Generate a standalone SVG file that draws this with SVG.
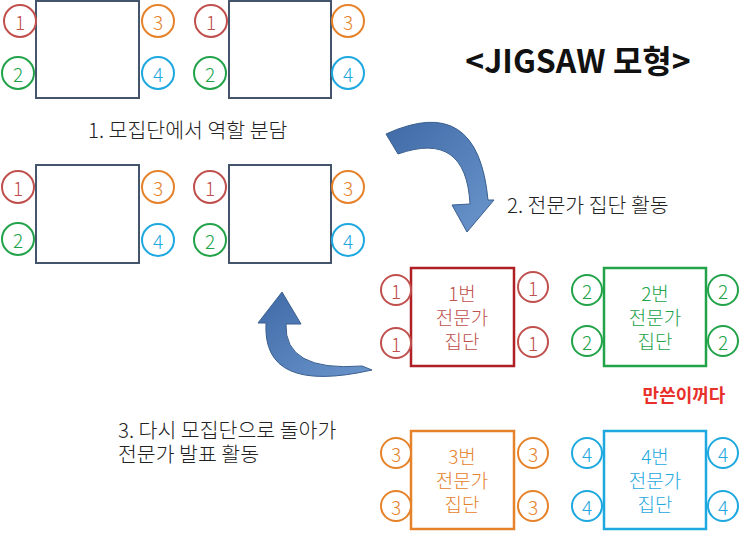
<svg xmlns="http://www.w3.org/2000/svg" width="743" height="533" viewBox="0 0 743 533">
<style>
text{font-family:"Noto Sans CJK KR","Noto Sans",sans-serif;}
.c{fill:#fff;stroke-width:2}
.n{font-size:19px;text-anchor:middle;dominant-baseline:central;font-weight:300}
.r{stroke:#c0504d}.rt{fill:#c0504d}
.g{stroke:#22a34a}.gt{fill:#22a34a}
.o{stroke:#e6822a}.ot{fill:#e6822a}
.b{stroke:#1ea8e0}.bt{fill:#1ea8e0}
.tb{fill:#fff;stroke:#44546a;stroke-width:2}
.lbl{font-size:20.5px;fill:#222;font-weight:300}
.big{font-size:19px;text-anchor:middle;font-weight:300}
.arrow{fill:url(#ag);stroke:#3a5f8f;stroke-width:1}
</style>
<defs>
<linearGradient id="ag" x1="0" y1="0" x2="1" y2="1"><stop offset="0" stop-color="#3f6aa6"/><stop offset="1" stop-color="#6b95cc"/></linearGradient>
</defs>
<rect width="743" height="533" fill="#fff"/>
<g id="home1">
<rect class="tb" x="36" y="1" width="103" height="97"/>
<circle class="c r" cx="20" cy="21" r="16"/><text class="n rt" x="20" y="21">1</text>
<circle class="c g" cx="18" cy="73" r="16"/><text class="n gt" x="18" y="73">2</text>
<circle class="c o" cx="158" cy="21" r="16"/><text class="n ot" x="158" y="21">3</text>
<circle class="c b" cx="158" cy="73" r="16"/><text class="n bt" x="158" y="73">4</text>
</g>
<g id="home2">
<rect class="tb" x="229" y="1" width="102" height="97"/>
<circle class="c r" cx="211" cy="21" r="16"/><text class="n rt" x="211" y="21">1</text>
<circle class="c g" cx="210" cy="73" r="16"/><text class="n gt" x="210" y="73">2</text>
<circle class="c o" cx="348" cy="21" r="16"/><text class="n ot" x="348" y="21">3</text>
<circle class="c b" cx="348" cy="73" r="16"/><text class="n bt" x="348" y="73">4</text>
</g>
<g id="home3">
<rect class="tb" x="36" y="165" width="103" height="98"/>
<circle class="c r" cx="18" cy="187" r="16"/><text class="n rt" x="18" y="187">1</text>
<circle class="c g" cx="18" cy="239" r="16"/><text class="n gt" x="18" y="239">2</text>
<circle class="c o" cx="158" cy="187" r="16"/><text class="n ot" x="158" y="187">3</text>
<circle class="c b" cx="158" cy="240" r="16"/><text class="n bt" x="158" y="240">4</text>
</g>
<g id="home4">
<rect class="tb" x="229" y="165" width="102" height="98"/>
<circle class="c r" cx="210" cy="187" r="16"/><text class="n rt" x="210" y="187">1</text>
<circle class="c g" cx="210" cy="240" r="16"/><text class="n gt" x="210" y="240">2</text>
<circle class="c o" cx="348" cy="187" r="16"/><text class="n ot" x="348" y="187">3</text>
<circle class="c b" cx="348" cy="240" r="16"/><text class="n bt" x="348" y="240">4</text>
</g>
<g id="expert1">
<rect x="411" y="268" width="103" height="98" fill="#fff" stroke="#b01f24" stroke-width="2.5"/>
<text class="big rt" x="462" y="301">1번</text><text class="big rt" x="462" y="325">전문가</text><text class="big rt" x="462" y="349">집단</text>
<circle class="c r" cx="396" cy="290" r="15"/><text class="n rt" x="396" y="290">1</text>
<circle class="c r" cx="396" cy="343" r="15"/><text class="n rt" x="396" y="343">1</text>
<circle class="c r" cx="533" cy="287" r="15"/><text class="n rt" x="533" y="287">1</text>
<circle class="c r" cx="533" cy="342" r="15"/><text class="n rt" x="533" y="342">1</text>
</g>
<g id="expert2">
<rect class="g" x="604" y="268" width="102" height="98" fill="#fff" stroke-width="2.5"/>
<text class="big gt" x="655" y="301">2번</text><text class="big gt" x="655" y="325">전문가</text><text class="big gt" x="655" y="349">집단</text>
<circle class="c g" cx="587" cy="290" r="15"/><text class="n gt" x="587" y="290">2</text>
<circle class="c g" cx="587" cy="341" r="15"/><text class="n gt" x="587" y="341">2</text>
<circle class="c g" cx="723" cy="290" r="15"/><text class="n gt" x="723" y="290">2</text>
<circle class="c g" cx="723" cy="341" r="15"/><text class="n gt" x="723" y="341">2</text>
</g>
<g id="expert3">
<rect class="o" x="411" y="431" width="103" height="98" fill="#fff" stroke-width="2.5"/>
<text class="big ot" x="462" y="464">3번</text><text class="big ot" x="462" y="488">전문가</text><text class="big ot" x="462" y="512">집단</text>
<circle class="c o" cx="396" cy="453" r="15"/><text class="n ot" x="396" y="453">3</text>
<circle class="c o" cx="396" cy="506" r="15"/><text class="n ot" x="396" y="506">3</text>
<circle class="c o" cx="533" cy="453" r="15"/><text class="n ot" x="533" y="453">3</text>
<circle class="c o" cx="533" cy="506" r="15"/><text class="n ot" x="533" y="506">3</text>
</g>
<g id="expert4">
<rect class="b" x="604" y="431" width="102" height="98" fill="#fff" stroke-width="2.5"/>
<text class="big bt" x="655" y="464">4번</text><text class="big bt" x="655" y="488">전문가</text><text class="big bt" x="655" y="512">집단</text>
<circle class="c b" cx="587" cy="453" r="15"/><text class="n bt" x="587" y="453">4</text>
<circle class="c b" cx="587" cy="506" r="15"/><text class="n bt" x="587" y="506">4</text>
<circle class="c b" cx="723" cy="453" r="15"/><text class="n bt" x="723" y="453">4</text>
<circle class="c b" cx="723" cy="506" r="15"/><text class="n bt" x="723" y="506">4</text>
</g>
<g id="connectors">
<path class="arrow" d="M386,134 Q478,92 488,200 L494,200 L467,232 L452,205 L470,204 Q466,130 398,154 Z"/>
<path class="arrow" d="M372,370 Q262,395 266,323 L258,323 L282,292 L301,324 L286,324 Q284,372 362,366 Z"/>
</g>
<text x="578" y="73" font-size="32" font-weight="bold" text-anchor="middle" fill="#111">&lt;JIGSAW 모형&gt;</text>
<text class="lbl" x="88" y="138">1. 모집단에서 역할 분담</text>
<text class="lbl" x="507" y="213">2. 전문가 집단 활동</text>
<text class="lbl" x="118" y="438">3. 다시 모집단으로 돌아가</text>
<text class="lbl" x="118" y="462">전문가 발표 활동</text>
<text x="684" y="402" font-size="18" font-weight="bold" text-anchor="middle" fill="#e8302a">만쓴이꺼다</text>
</svg>
